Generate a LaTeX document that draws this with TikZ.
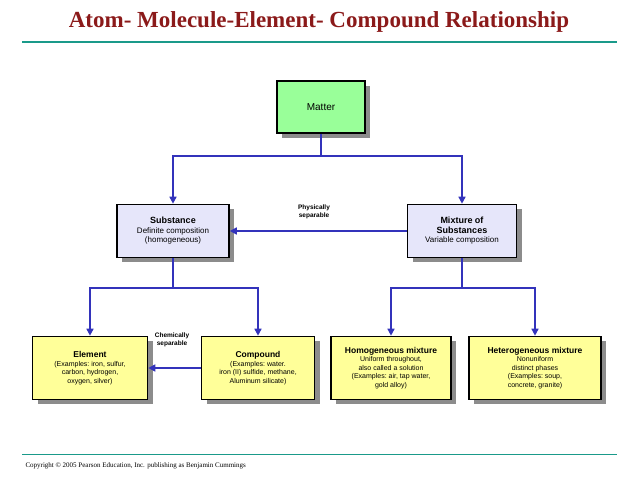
\documentclass[tikz,border=0pt]{standalone}
\usepackage{fontspec}
\setmainfont{Liberation Serif}
\newfontfamily\myss{Liberation Sans}
\usetikzlibrary{arrows.meta,shadows}
\definecolor{titlered}{HTML}{8B1A1A}
\definecolor{teal1}{HTML}{1A9A8A}
\definecolor{lnblue}{HTML}{3333BB}
\definecolor{grn}{HTML}{99FF99}
\definecolor{lav}{HTML}{E6E6FA}
\definecolor{ylw}{HTML}{FFFF99}
\newcommand\hdA[1]{{\bfseries\fontsize{9}{11}\selectfont #1}}
\newcommand\hdB[1]{{\bfseries\fontsize{8.5}{10}\selectfont #1}}
\tikzset{
 box/.style={draw=black,line width=1.6pt,align=center,inner sep=1pt,font=\myss\fontsize{8}{9.5}\selectfont,
   drop shadow={shadow xshift=5pt,shadow yshift=-5pt,fill=black!45,opacity=1}},
 con/.style={draw=lnblue,line width=1.5pt},
 arr/.style={con,-{Triangle[length=7pt,width=7pt]}},
 lab/.style={font=\myss\bfseries\fontsize{6.5}{7.5}\selectfont,align=center}
}
\begin{document}
\begin{tikzpicture}[x=1pt,y=-1pt]
\useasboundingbox (0,0) rectangle (638,478);
\node[font=\bfseries\fontsize{23}{26}\selectfont,text=titlered] (title) at (319,22) {Atom- Molecule-Element- Compound Relationship};
\draw[teal1,line width=1.5pt] (22,42) -- (617,42);
\draw[teal1,line width=1pt] (22,455) -- (617,455);
\node[anchor=west,font=\fontsize{7}{8}\selectfont] (copy) at (22,466) {Copyright \textcopyright\ 2005 Pearson Education, Inc. publishing as Benjamin Cummings};

\node[box,fill=grn,minimum width=88pt,minimum height=52pt,font=\myss\fontsize{10}{12}\selectfont] (matter) at (321,107) {Matter};
\node[box,fill=lav,minimum width=112pt,minimum height=53pt] (sub) at (173,231) {\hdA{Substance}\\Definite composition\\(homogeneous)};
\node[box,fill=lav,minimum width=109pt,minimum height=53pt] (mix) at (462,231) {\hdA{Mixture of}\\\hdA{Substances}\\Variable composition};
\node[box,fill=ylw,minimum width=115pt,minimum height=63pt,font=\myss\fontsize{7}{8.5}\selectfont] (el) at (90,368) {\hdB{Element}\\(Examples:\ iron, sulfur,\\carbon, hydrogen,\\oxygen, silver)};
\node[box,fill=ylw,minimum width=113pt,minimum height=63pt,font=\myss\fontsize{7}{8.5}\selectfont] (comp) at (258,368) {\hdB{Compound}\\(Examples:\ water.\\iron (II) sulfide, methane,\\Aluminum silicate)};
\node[box,fill=ylw,minimum width=120pt,minimum height=63pt,font=\myss\fontsize{7}{8.5}\selectfont] (hom) at (391,368) {\hdB{Homogeneous mixture}\\Uniform\ throughout,\\also called a solution\\(Examples:\ air, tap water,\\gold alloy)};
\node[box,fill=ylw,minimum width=132pt,minimum height=63pt,font=\myss\fontsize{7}{8.5}\selectfont] (het) at (535,368) {\hdB{Heterogeneous mixture}\\Nonuniform\\distinct phases\\(Examples:\ soup,\\concrete, granite)};

\coordinate (m1) at (321,156);
\coordinate (s1) at (173,288);
\coordinate (x1) at (462,288);
\draw[con] (matter.south) -- (m1);
\draw[arr] (m1) -| (sub.north);
\draw[arr] (m1) -| (mix.north);
\draw[con] (sub.south) -- (s1);
\draw[arr] (s1) -| (el.north);
\draw[arr] (s1) -| (comp.north);
\draw[con] (mix.south) -- (x1);
\draw[arr] (x1) -| (hom.north);
\draw[arr] (x1) -| (het.north);
\draw[arr] (mix.west) -- (sub.east);
\draw[arr] (comp.west) -- (el.east);
\node[lab] (ps) at (314,212) {Physically\\separable};
\node[lab] (cs) at (172,340) {Chemically\\separable};
\end{tikzpicture}
\end{document}
